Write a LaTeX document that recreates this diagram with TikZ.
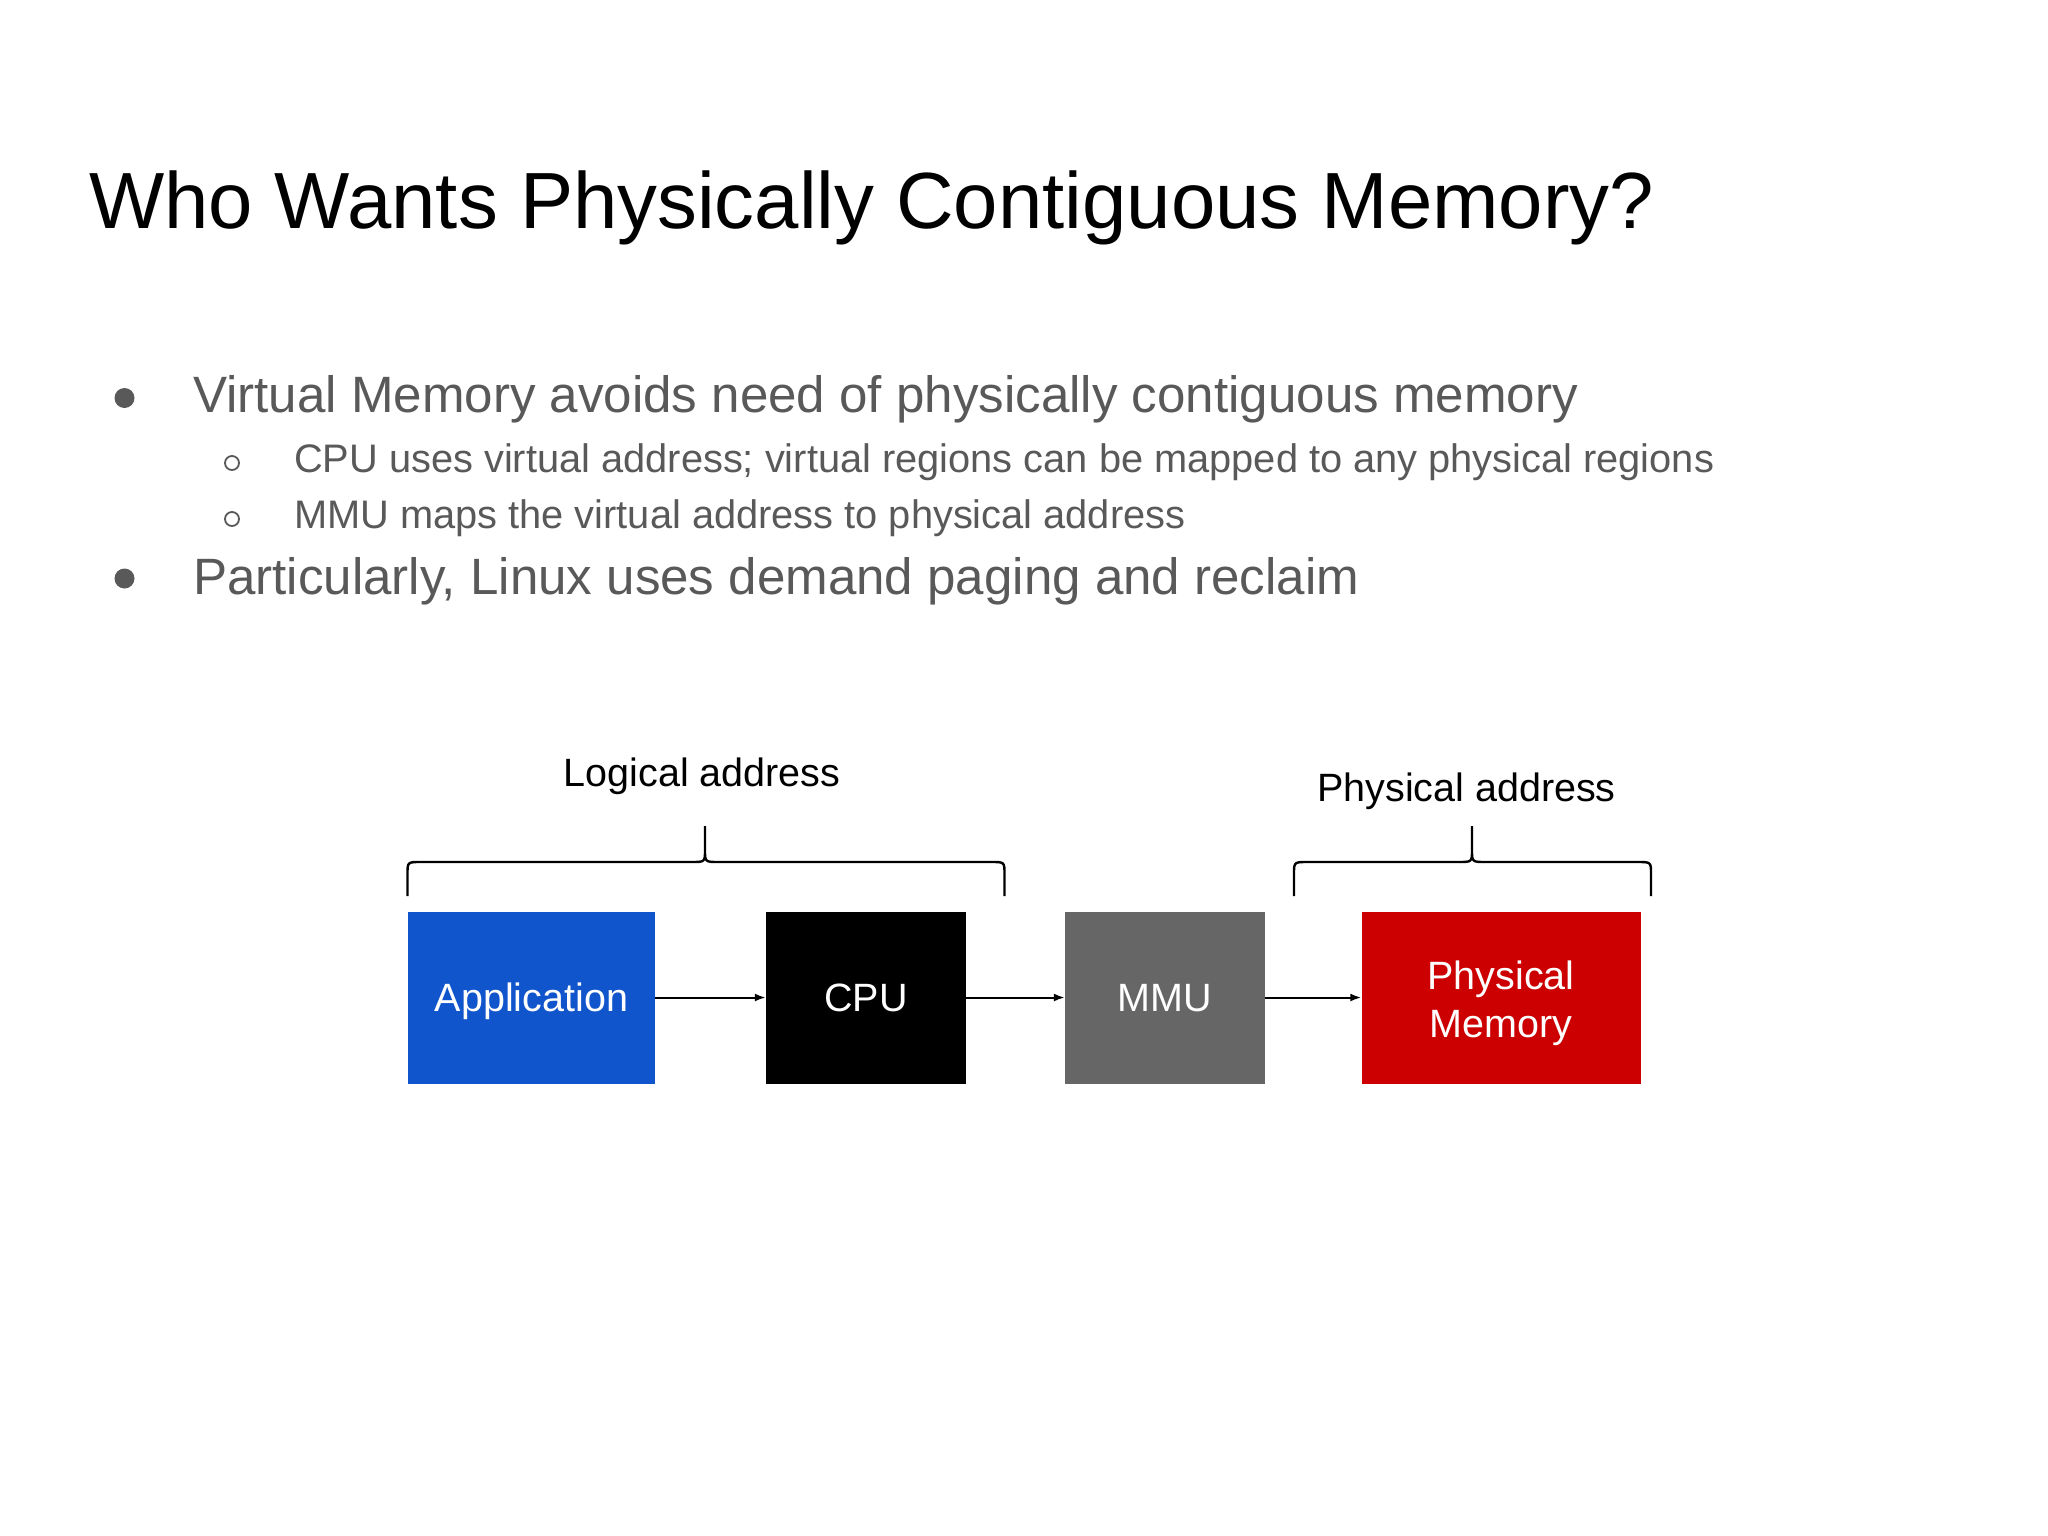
\documentclass[tikz,border=0pt]{standalone}
\usepackage{fontspec}
\setmainfont{Liberation Sans}
\usetikzlibrary{arrows.meta}
\definecolor{bodygray}{HTML}{595959}
\definecolor{appblue}{HTML}{1155CC}
\definecolor{mmugray}{HTML}{666666}
\definecolor{memred}{HTML}{CC0000}
\tikzset{
  txt/.style={anchor=base west, inner sep=0pt, outer sep=0pt},
  blockbox/.style={draw=none, minimum height=172pt, inner sep=0pt, text=white, align=center,
    font=\fontsize{39.5}{48}\selectfont},
  labtxt/.style={inner sep=0pt, text=white, align=center, font=\fontsize{39.5}{48}\selectfont},
  flow/.style={line width=2pt, -{Latex[length=11pt,width=8pt]}},
  bracepath/.style={line width=2.4pt, black},
  dotbullet/.style={circle, fill=bodygray, draw=none, minimum size=20pt, inner sep=0pt},
  ringbullet/.style={circle, draw=bodygray, line width=1.8pt, minimum size=14pt, inner sep=0pt},
}
\begin{document}
\begin{tikzpicture}[x=1pt,y=-1pt]
\useasboundingbox (0,0) rectangle (2048,1536);
\fill[white] (0,0) rectangle (2048,1536);

% title
\node[txt, font=\fontsize{79.7}{95}\selectfont] (title) at (89,228) {Who Wants Physically Contiguous Memory?};

% bullets
\node[dotbullet] (b1) at (124.5,398) {};
\node[txt, text=bodygray, font=\fontsize{51.1}{61}\selectfont] (t1) at (193,412) {Virtual Memory avoids need of physically contiguous memory};
\node[ringbullet] (s1) at (232,463) {};
\node[txt, text=bodygray, font=\fontsize{39.8}{48}\selectfont] (t2) at (294,472) {CPU uses virtual address; virtual regions can be mapped to any physical regions};
\node[ringbullet] (s2) at (232,519) {};
\node[txt, text=bodygray, font=\fontsize{39.8}{48}\selectfont] (t3) at (294,528) {MMU maps the virtual address to physical address};
\node[dotbullet] (b2) at (124.5,578.5) {};
\node[txt, text=bodygray, font=\fontsize{51.1}{61}\selectfont] (t4) at (193,594.5) {Particularly, Linux uses demand paging and reclaim};

% blocks
\node[blockbox, fill=appblue, minimum width=247pt, text depth=0pt] (app) at (531.5,997.5) {Application};
\node[blockbox, fill=black, minimum width=200pt, text depth=0pt] (cpu) at (866,997.5) {CPU};
\node[blockbox, fill=mmugray, minimum width=200pt, text depth=0pt] (mmu) at (1165,997.5) {MMU};
\node[blockbox, fill=memred, minimum width=279pt,
  label={[labtxt, yshift=-6pt]center:{Physical\\Memory}}] (mem) at (1501,997.5) {};

\draw[flow] (app.east) -- (cpu.west);
\draw[flow] (cpu.east) -- (mmu.west);
\draw[flow] (mmu.east) -- (mem.west);

% braces
\draw[bracepath] (407.5,896) -- (407.5,874) .. controls (407.5,862) .. (421,862)
  -- (691,862) .. controls (705,862) .. (705,850) -- (705,826)
  (705,850) .. controls (705,862) .. (719,862) -- (991,862)
  .. controls (1004.5,862) .. (1004.5,874) -- (1004.5,896);
\draw[bracepath] (1294,896) -- (1294,874) .. controls (1294,862) .. (1308,862)
  -- (1458,862) .. controls (1472,862) .. (1472,850) -- (1472,826)
  (1472,850) .. controls (1472,862) .. (1486,862) -- (1637,862)
  .. controls (1651,862) .. (1651,874) -- (1651,896);

\node[anchor=base, inner sep=0pt, font=\fontsize{39.5}{47}\selectfont] (logl) at (702,786) {Logical address};
\node[anchor=base, inner sep=0pt, font=\fontsize{39.5}{47}\selectfont] (phyl) at (1466.5,801) {Physical address};
\end{tikzpicture}
\end{document}
